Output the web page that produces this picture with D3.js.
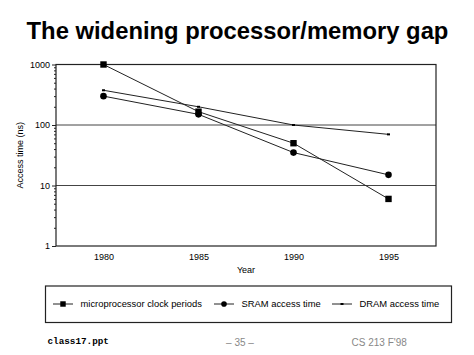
<!DOCTYPE html>
<html>
<head>
<meta charset="utf-8">
<script src="https://cdn.jsdelivr.net/npm/d3@7"></script>
<style>
  body { margin: 0; background: #fff; }
  svg { display: block; }
</style>
</head>
<body>
<div id="chart"></div>
<script>
var years = [1980, 1985, 1990, 1995];
var cpuClock = [1000, 166, 50, 6];
var sramAccess = [300, 150, 35, 15];
var dramAccess = [375, 200, 100, 70];
var yTicks = [1, 10, 100, 1000];
var seriesNames = ["microprocessor clock periods", "SRAM access time", "DRAM access time"];

var width = 474, height = 355;
var margin = { top: 64.5, right: 38, bottom: 109, left: 56 };
var plotW = width - margin.left - margin.right;
var plotH = height - margin.top - margin.bottom;
var ink = "#222";

var svg = d3.select("#chart").append("svg")
  .attr("width", width)
  .attr("height", height)
  .style("font-family", "'Liberation Sans', Arial, sans-serif");

// title
svg.append("text")
  .attr("x", 237.5)
  .attr("y", 39)
  .attr("text-anchor", "middle")
  .attr("font-size", "23.8px")
  .attr("font-weight", "bold")
  .attr("fill", "#000")
  .text("The widening processor/memory gap");

var g = svg.append("g")
  .attr("transform", "translate(" + margin.left + "," + margin.top + ")");

var x = d3.scaleLinear().domain([1977.5, 1997.5]).range([0, plotW]);
var y = d3.scaleLog().domain([1, 1000]).range([plotH, 0]);

// gridlines
g.selectAll("line.grid")
  .data(yTicks.slice(1, 3))
  .enter().append("line")
  .attr("class", "grid")
  .attr("x1", 0).attr("x2", plotW)
  .attr("y1", function (d) { return y(d); })
  .attr("y2", function (d) { return y(d); })
  .attr("stroke", "#444")
  .attr("stroke-width", 1);

// y axis with log minor ticks
var minor = [];
for (var dec = 1; dec < 1000; dec *= 10) {
  for (var k = 2; k <= 9; k++) minor.push(dec * k);
}
g.append("g")
  .call(d3.axisLeft(y).tickValues(minor).tickSize(2).tickFormat(""))
  .call(function (a) { a.select(".domain").remove(); a.selectAll("line").attr("stroke", ink); });

var yAxis = g.append("g")
  .call(d3.axisLeft(y).tickValues(yTicks).tickSize(4).tickPadding(2).tickFormat(d3.format("d")));
yAxis.select(".domain").remove();
yAxis.selectAll("line").attr("stroke", ink);
yAxis.selectAll("text").attr("font-size", "9px").attr("fill", "#000")
  .attr("font-family", "'Liberation Sans', Arial, sans-serif");

// x axis labels
var xAxis = g.append("g")
  .attr("transform", "translate(0," + plotH + ")")
  .call(d3.axisBottom(x).tickValues(years).tickSize(0).tickPadding(8).tickFormat(d3.format("d")));
xAxis.select(".domain").remove();
xAxis.selectAll("text").attr("font-size", "9px").attr("fill", "#000")
  .attr("font-family", "'Liberation Sans', Arial, sans-serif");

// plot border
g.append("rect")
  .attr("width", plotW).attr("height", plotH)
  .attr("fill", "none").attr("stroke", ink).attr("stroke-width", 1.2);

// axis titles
svg.append("text")
  .attr("transform", "translate(23," + (margin.top + plotH / 2) + ") rotate(-90)")
  .attr("text-anchor", "middle")
  .attr("font-size", "9px")
  .text("Access time (ns)");

svg.append("text")
  .attr("x", margin.left + x(1987.5))
  .attr("y", 273)
  .attr("text-anchor", "middle")
  .attr("font-size", "9px")
  .text("Year");

// series
var series = [
  { name: seriesNames[0], values: cpuClock, marker: "square" },
  { name: seriesNames[1], values: sramAccess, marker: "circle" },
  { name: seriesNames[2], values: dramAccess, marker: "dash" }
];

var line = d3.line()
  .x(function (d) { return x(d.year); })
  .y(function (d) { return y(d.value); });

function drawMarker(sel, type, size) {
  var s = size || 1;
  if (type === "square") {
    sel.append("rect").attr("x", -3.2 * s).attr("y", -3.2 * s).attr("width", 6.4 * s).attr("height", 6.4 * s).attr("fill", "#000");
  } else if (type === "circle") {
    sel.append("circle").attr("r", 3.3 * s).attr("fill", "#000");
  } else {
    sel.append("rect").attr("x", -1.5).attr("y", -1).attr("width", 3).attr("height", 2).attr("fill", "#000");
  }
}

series.forEach(function (s) {
  var pts = years.map(function (yr, i) { return { year: yr, value: s.values[i] }; });
  g.append("path")
    .datum(pts)
    .attr("d", line)
    .attr("fill", "none")
    .attr("stroke", ink)
    .attr("stroke-width", 1);
  g.selectAll(null)
    .data(pts)
    .enter().append("g")
    .attr("transform", function (d) { return "translate(" + x(d.year) + "," + y(d.value) + ")"; })
    .each(function () { drawMarker(d3.select(this), s.marker); });
});

// legend
var legend = svg.append("g");
legend.append("rect")
  .attr("x", 45.5).attr("y", 286)
  .attr("width", 406).attr("height", 36.5)
  .attr("fill", "none").attr("stroke", ink).attr("stroke-width", 1.2);

var legendX = [53, 214, 332];
series.forEach(function (s, i) {
  var lg = legend.append("g").attr("transform", "translate(" + legendX[i] + ",304)");
  lg.append("line").attr("x1", 0).attr("x2", 20).attr("stroke", ink).attr("stroke-width", 1);
  drawMarker(lg.append("g").attr("transform", "translate(10,0)"), s.marker, 0.85);
  lg.append("text")
    .attr("x", 27.5).attr("y", 3.3)
    .attr("font-size", "9.4px")
    .text(s.name);
});

// footer
svg.append("text")
  .attr("x", 47.5).attr("y", 344)
  .attr("font-family", "'Liberation Mono', 'Courier New', monospace")
  .attr("font-weight", "bold")
  .attr("font-size", "9.3px")
  .text("class17.ppt");

svg.append("text")
  .attr("x", 240).attr("y", 346)
  .attr("text-anchor", "middle")
  .attr("font-size", "10px")
  .attr("fill", "#888")
  .text("\u2013 35 \u2013");

svg.append("text")
  .attr("x", 351.5).attr("y", 346)
  .attr("font-size", "10px")
  .attr("fill", "#888")
  .text("CS 213 F'98");
</script>
</body>
</html>
